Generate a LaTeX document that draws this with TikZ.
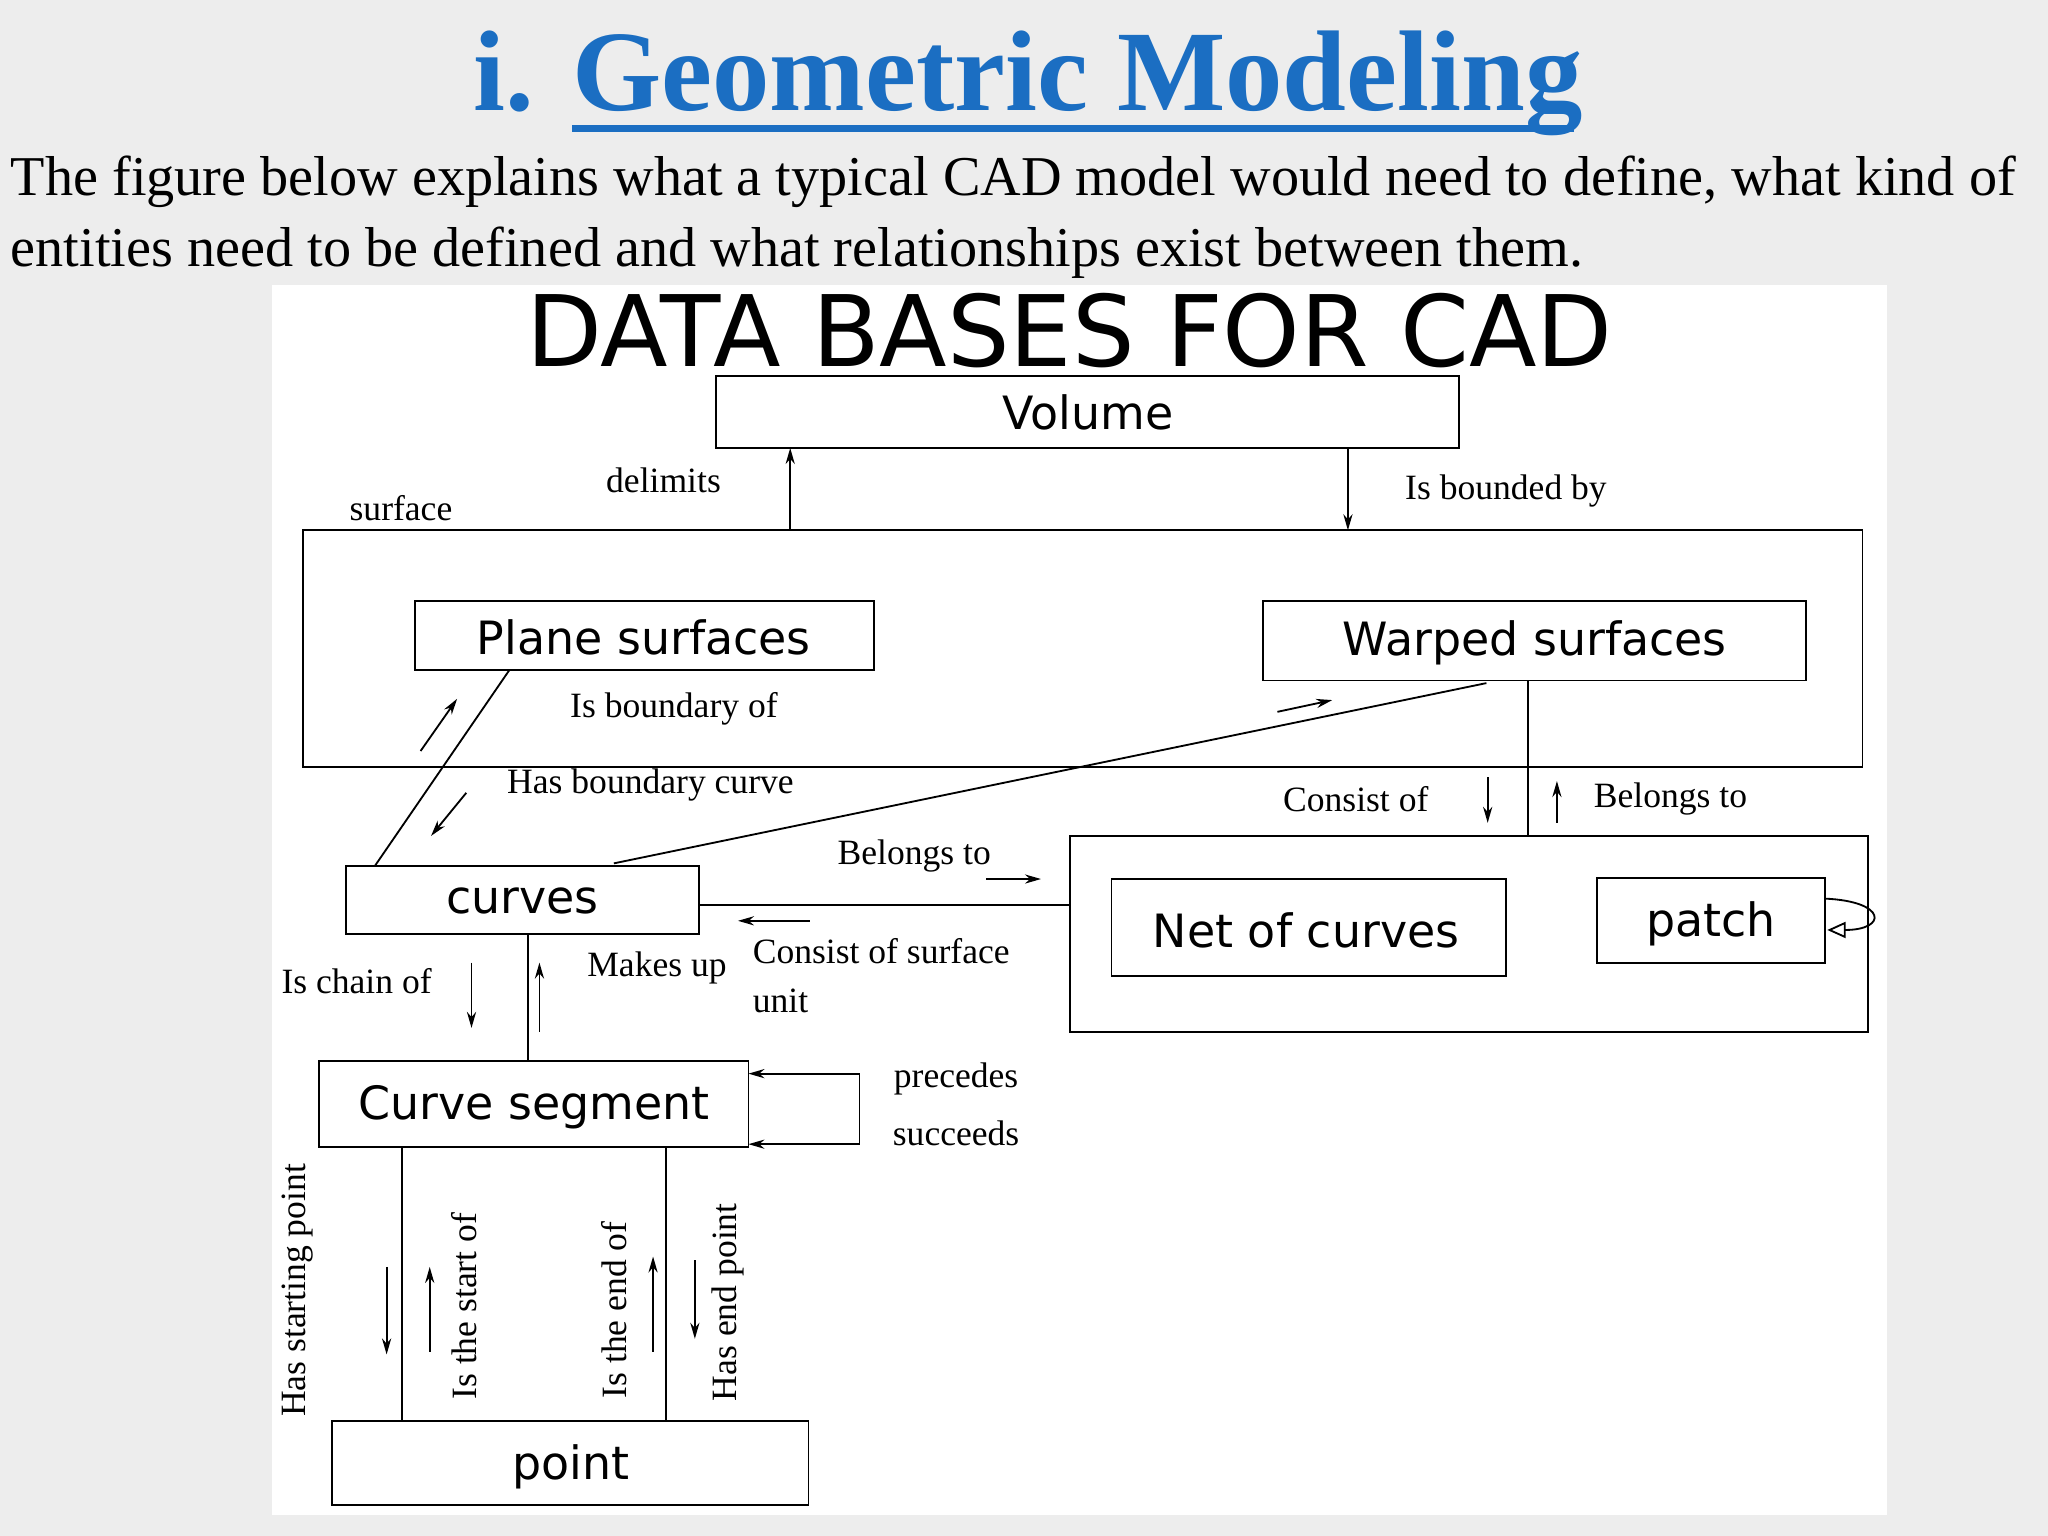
\documentclass[tikz,border=0pt]{standalone}
\usepackage{fontspec}
\setmainfont{Liberation Serif}
\newfontfamily\boxfont{DejaVu Sans}
\usetikzlibrary{arrows.meta}
\definecolor{titleblue}{HTML}{1B6EC2}
\begin{document}
\begin{tikzpicture}[x=0.02cm,y=-0.02cm,
  bl/.style={font=\boxfont\fontsize{20}{24}\selectfont},
  lb/.style={font=\fontsize{15.5}{17}\selectfont,inner sep=0},
  ar/.style={-{Stealth[length=7pt,width=4pt]},thick},
  ln/.style={thick}]
\fill[gray!14] (0,0) rectangle (1568,1176);
\useasboundingbox (0,0) rectangle (1568,1176);
\fill[white] (208,218) rectangle (1445,1160);
% title
\node[font=\bfseries\fontsize{50}{56}\selectfont,text=titleblue] (title) at (787,64) {i. Geometric Modeling};
\fill[titleblue] (438,96) rectangle (1205,101);
\node[anchor=west,font=\fontsize{24.5}{31}\selectfont,align=left,inner sep=0] (sub) at (8,166) {The figure below explains what a typical CAD model would need to define, what kind of\\entities need to be defined and what relationships exist between them.};
\node[font=\boxfont\fontsize{43}{46}\selectfont] (head) at (819,253) {DATA BASES FOR CAD};
% boxes
\draw[thick] (548,288) rectangle (1117,343); \node[bl] (vol) at (833,316) {Volume};
\draw[thick] (232,406) rectangle (1426,587);
\draw[thick] (318,460) rectangle (669,513); \node[bl] (ps) at (493,488) {Plane surfaces};
\draw[thick] (967,460) rectangle (1383,521); \node[bl] (ws) at (1175,492) {Warped surfaces};
\draw[thick] (265,663) rectangle (535,715); \node[bl] (cv) at (400,690) {curves};
\draw[thick] (819,640) rectangle (1430,790);
\draw[thick] (851,673) rectangle (1153,747); \node[bl] (nc) at (1000,712) {Net of curves};
\draw[thick] (1223,672) rectangle (1397,737); \node[bl] (pa) at (1310,707) {patch};
\draw[thick] (244,812) rectangle (573,878); \node[bl] (cs) at (409,848) {Curve segment};
\draw[thick] (254,1088) rectangle (619,1152); \node[bl] (pt) at (437,1123) {point};
% connectors
\draw[ar] (605,406) -- (605,343);
\draw[ar] (1032,343) -- (1032,406);
\draw[ln] (390,513) -- (287,663);
\draw[ln] (470,661) -- (1138,523);
\draw[ar] (322,575) -- (350,535);
\draw[ar] (357,607) -- (330,640);
\draw[ar] (978,545) -- (1020,536);
\draw[ln] (1170,521) -- (1170,640);
\draw[ar] (1139,595) -- (1139,630);
\draw[ar] (1192,630) -- (1192,598);
\draw[ln] (535,693) -- (819,693);
\draw[ar] (755,673) -- (797,673);
\draw[ar] (620,705) -- (565,705);
\draw[ln] (404,715) -- (404,812);
\draw[ar] (361,737) -- (361,787);
\draw[ar] (413,790) -- (413,737);
\draw[{Stealth[length=7pt,width=4pt]}-{Stealth[length=7pt,width=4pt]},thick] (573,822) -- (658,822) -- (658,876) -- (573,876);
\draw[ln] (308,878) -- (308,1088);
\draw[ln] (510,878) -- (510,1088);
\draw[ar] (296,970) -- (296,1037);
\draw[ar] (329,1035) -- (329,970);
\draw[ar] (500,1035) -- (500,962);
\draw[ar] (532,965) -- (532,1025);
\draw[-{Triangle[open,length=8pt,width=7pt]},thick] (1397,688) .. controls (1445,690) and (1445,712) .. (1399,712);
% labels
\node[lb] at (307,389) {surface};
\node[lb] at (508,368) {delimits};
\node[lb] at (1153,376) {Is bounded by};
\node[lb] at (516,543) {Is boundary of};
\node[lb] at (498,601) {Has boundary curve};
\node[lb] at (1038,612) {Consist of};
\node[lb] at (1279,612) {Belongs to};
\node[lb] at (700,655) {Belongs to};
\node[lb,anchor=west,align=left] at (576,747) {Consist of surface\\[4pt]unit};
\node[lb] at (273,751) {Is chain of};
\node[lb] at (503,741) {Makes up};
\node[lb] at (732,826) {precedes};
\node[lb] at (732,868) {succeeds};
\node[lb,rotate=90] at (228,988) {Has starting point};
\node[lb,rotate=90] at (355,1000) {Is the start of};
\node[lb,rotate=90] at (470,1003) {Is the end of};
\node[lb,rotate=90] at (557,997) {Has end point};
\end{tikzpicture}
\end{document}
